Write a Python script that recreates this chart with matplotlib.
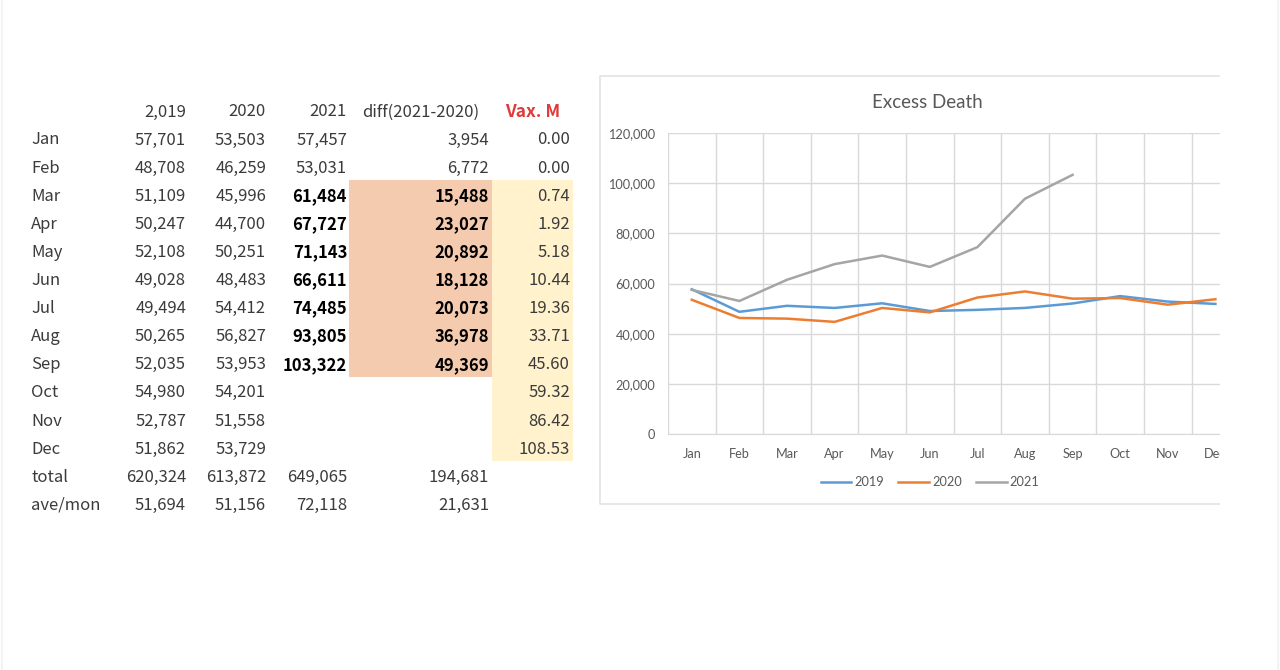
"""Excess death table (2019-2021) with the matching monthly line chart."""

import matplotlib

matplotlib.use("Agg")
import matplotlib.pyplot as plt
from matplotlib.patches import Rectangle
from matplotlib.ticker import FuncFormatter, MultipleLocator


months = ["Jan", "Feb", "Mar", "Apr", "May", "Jun", "Jul", "Aug", "Sep", "Oct", "Nov", "Dec"]
deaths_2019 = [57701, 48708, 51109, 50247, 52108, 49028, 49494, 50265, 52035, 54980, 52787, 51862]
deaths_2020 = [53503, 46259, 45996, 44700, 50251, 48483, 54412, 56827, 53953, 54201, 51558, 53729]
deaths_2021 = [57457, 53031, 61484, 67727, 71143, 66611, 74485, 93805, 103322]
diff_2021_2020 = [3954, 6772, 15488, 23027, 20892, 18128, 20073, 36978, 49369]
vax_m = [0.00, 0.00, 0.74, 1.92, 5.18, 10.44, 19.36, 33.71, 45.60, 59.32, 86.42, 108.53]
totals = [620324, 613872, 649065, 194681]
ave_per_month = [51694, 51156, 72118, 21631]
headers = ["2,019", "2020", "2021"]

TABLE_FONT = ["Noto Sans CJK JP", "DejaVu Sans"]
CHART_FONT = ["Lato", "DejaVu Sans"]
TEXT = "#3b3b3b"
AXIS_TEXT = "#595959"
GRID = "#d9d9d9"
COLORS = {"2019": "#5b9bd5", "2020": "#ed7d31", "2021": "#a5a5a5"}

fig = plt.figure(figsize=(12.8, 6.7), dpi=100)
fig.patch.set_facecolor("white")

# background canvas in pixel coordinates for the spreadsheet part
bg = fig.add_axes([0, 0, 1, 1])
bg.set_xlim(0, 1280)
bg.set_ylim(670, 0)
bg.axis("off")

col_right = [186, 266, 347, 489, 570]
row_y0, row_step = 138, 28.1
header_y = 110
text_shift = 2  # CJK font sits a little high when centred


def row_y(i):
    return row_y0 + i * row_step


# shaded cells
bg.add_patch(Rectangle((349, row_y(2) - 14), 143, row_y(8) - row_y(2) + 28,
                       facecolor="#f5cbb0", edgecolor="none"))
bg.add_patch(Rectangle((492, row_y(2) - 14), 81, row_y(11) - row_y(2) + 28,
                       facecolor="#fff2cc", edgecolor="none"))

cell = dict(fontsize=12, family=TABLE_FONT, va="center", color=TEXT)
for x, h in zip(col_right, headers):
    bg.text(x, header_y + text_shift, h, ha="right", **cell)
bg.text(421, header_y + text_shift, "diff(2021-2020)", ha="center", **cell)
bg.text(533, header_y + text_shift, "Vax. M", ha="center", fontsize=12.5,
        family=TABLE_FONT, va="center", color="#e03b3b", fontweight="bold")

for i, m in enumerate(months):
    y = row_y(i) + text_shift
    bg.text(31, y, m, ha="left", **cell)
    bg.text(col_right[0], y, f"{deaths_2019[i]:,}", ha="right", **cell)
    bg.text(col_right[1], y, f"{deaths_2020[i]:,}", ha="right", **cell)
    if i < len(deaths_2021):
        bold = i >= 2
        style = dict(cell, color="black" if bold else TEXT, fontweight="bold" if bold else "normal")
        bg.text(col_right[2], y, f"{deaths_2021[i]:,}", ha="right", **style)
        bg.text(col_right[3], y, f"{diff_2021_2020[i]:,}", ha="right", **style)
    bg.text(col_right[4], y, f"{vax_m[i]:.2f}", ha="right", **cell)

for label, values, i in (("total", totals, 12), ("ave/mon", ave_per_month, 13)):
    y = row_y(i) + text_shift
    bg.text(31, y, label, ha="left", **cell)
    for x, v in zip(col_right[:4], values):
        bg.text(x, y, f"{v:,}", ha="right", **cell)

# chart frame (right side is cut off in the screenshot)
bg.plot([1219, 600, 600, 1219], [76, 76, 504, 504], color="#e3e3e3", lw=1.2)
bg.plot([1.5, 1.5], [0, 670], color="#f3f3f3", lw=1.5)
bg.plot([1278, 1278], [0, 670], color="#f3f3f3", lw=1.5)
bg.text(927, 102, "Excess Death", ha="center", va="center", fontsize=13.5,
        family=CHART_FONT, color=AXIS_TEXT)

# chart axes: 12 categories of ~47.6 px each starting at x=668
left_px, right_px, top_px, bottom_px = 668, 668 + 12 * 47.6, 133, 434
ax = fig.add_axes([left_px / 1280, (670 - bottom_px) / 670,
                   (right_px - left_px) / 1280, (bottom_px - top_px) / 670])
ax.set_facecolor("none")
x = list(range(len(months)))
ax.plot(x, deaths_2019, color=COLORS["2019"], lw=1.8, label="2019")
ax.plot(x, deaths_2020, color=COLORS["2020"], lw=1.8, label="2020")
ax.plot(x[:len(deaths_2021)], deaths_2021, color=COLORS["2021"], lw=1.8, label="2021")

ax.set_xlim(-0.5, 11.5)
ax.set_ylim(0, 120000)
ax.yaxis.set_major_locator(MultipleLocator(20000))
ax.yaxis.set_major_formatter(FuncFormatter(lambda v, _: f"{int(v):,}"))
ax.set_xticks(x)
ax.set_xticklabels(months)
ax.set_xticks([i - 0.5 for i in range(13)], minor=True)
ax.grid(True, axis="y", which="major", color=GRID, lw=1)
ax.grid(True, axis="x", which="minor", color=GRID, lw=1)
ax.tick_params(which="both", length=0)
ax.tick_params(axis="y", pad=9, labelsize=9.2, labelcolor=AXIS_TEXT)
ax.tick_params(axis="x", pad=10, labelsize=9.2, labelcolor=AXIS_TEXT)
for lbl in ax.get_xticklabels() + ax.get_yticklabels():
    lbl.set_family(CHART_FONT)
for side in ("top", "right", "left"):
    ax.spines[side].set_visible(False)
ax.spines["bottom"].set_color(GRID)
ax.set_axisbelow(True)

# hide what lies past the screenshot edge (display coords, origin bottom-left)
fig.patches.append(Rectangle((1219.5, 670 - 515), 56, 450, transform=None,
                             facecolor="white", edgecolor="none", zorder=5))

fig.legend(loc="center", bbox_to_anchor=(930 / 1280, 1 - 482 / 670), ncol=3,
           frameon=False, handlelength=2.4, handletextpad=0.25, columnspacing=1.1,
           prop={"family": CHART_FONT, "size": 9.2}, labelcolor=AXIS_TEXT)

fig.savefig("out.png", dpi=100, facecolor="white")
